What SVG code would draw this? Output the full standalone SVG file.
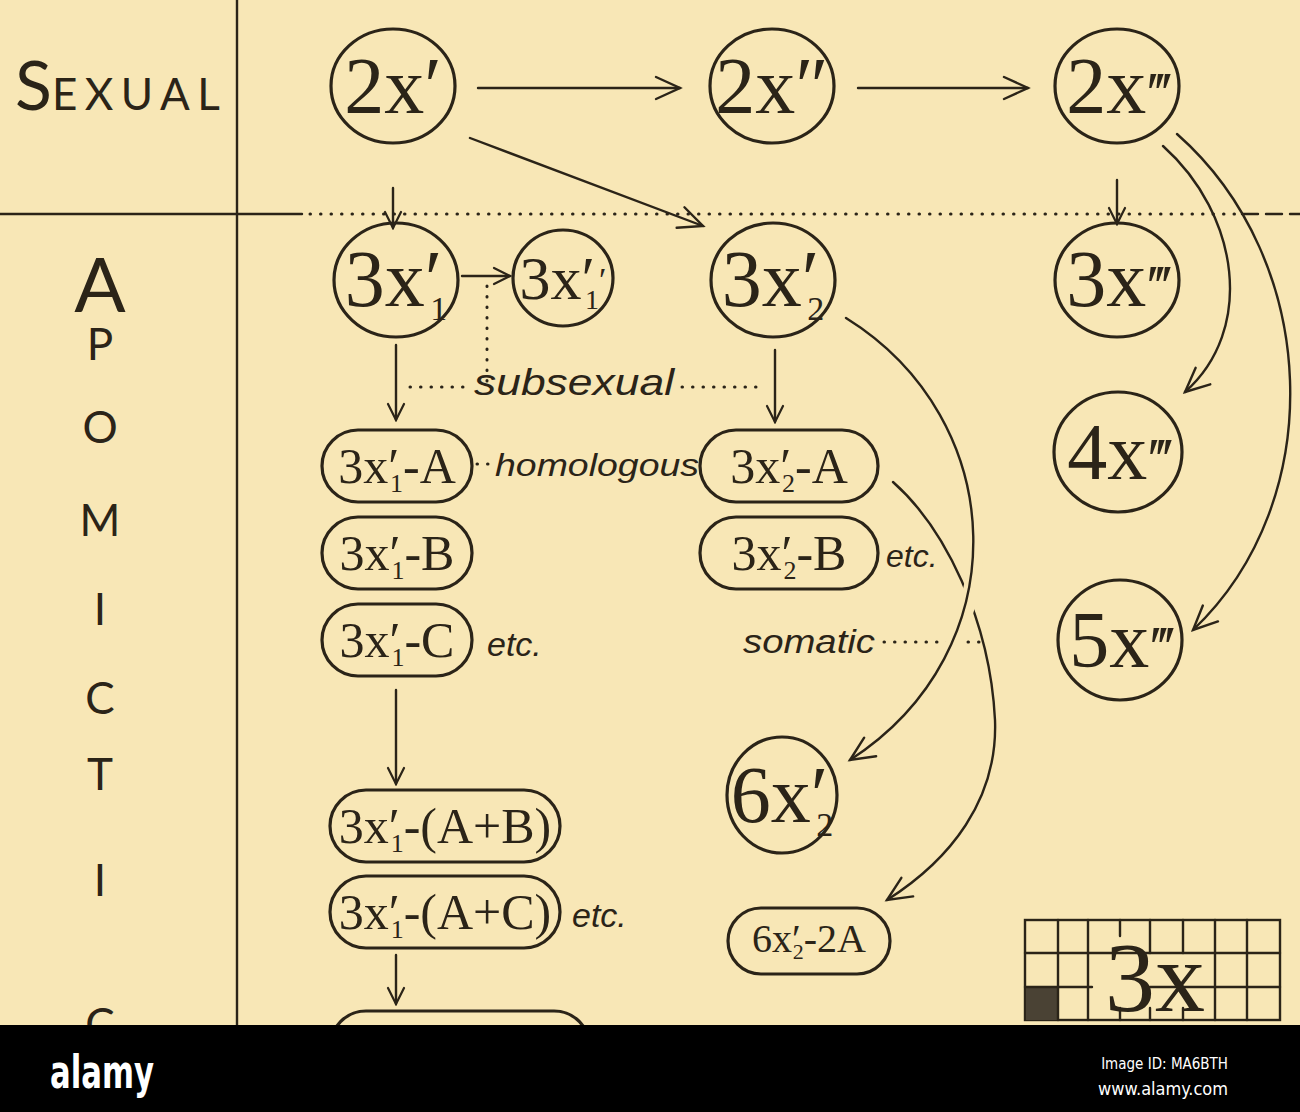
<svg xmlns="http://www.w3.org/2000/svg" width="1300" height="1112" viewBox="0 0 1300 1112">
<defs>
<style>
.node{stroke:#2b2418;stroke-width:3.2;fill:none}
.ln{stroke:#2b2418;stroke-width:2.4;fill:none;stroke-linecap:round}
.dot{stroke:#2b2418;stroke-width:3;fill:none;stroke-dasharray:0.5 10;stroke-linecap:round}
.lbl{font-family:"Liberation Serif",serif;fill:#2b2418;text-anchor:middle}
.c{font-size:80px}
.s{font-size:62px}
.p{font-size:50px}
.it{font-family:"Liberation Sans",sans-serif;font-style:italic;fill:#2b2418}
.cap{font-family:"Lato","Liberation Sans",sans-serif;fill:#2b2418;text-anchor:middle}
.halo{stroke:#f8e7b6;stroke-width:16;fill:none}
</style>
<marker id="ah" viewBox="0 0 30 30" refX="27" refY="15" markerWidth="30" markerHeight="30" markerUnits="userSpaceOnUse" orient="auto"><path d="M3,4 L27,15 L3,26" fill="none" stroke="#2b2418" stroke-width="2.4" stroke-linecap="round"/></marker>
<marker id="as" viewBox="0 0 20 20" refX="18" refY="10" markerWidth="20" markerHeight="20" markerUnits="userSpaceOnUse" orient="auto"><path d="M2,2 L18,10 L2,18" fill="none" stroke="#2b2418" stroke-width="2.2" stroke-linecap="round"/></marker>
</defs>
<rect width="1300" height="1112" fill="#f8e7b6"/>

<g id="frame">
<line class="ln" x1="237" y1="0" x2="237" y2="1025"/>
<line class="ln" x1="0" y1="214" x2="302" y2="214"/>
<line class="dot" x1="310" y1="214" x2="1236" y2="214"/>
<line class="ln" x1="1242" y1="214" x2="1300" y2="214" stroke-dasharray="16 8"/>
<text class="cap" x="15" y="110" style="text-anchor:start"><tspan font-size="68">S</tspan><tspan font-size="44" textLength="168" lengthAdjust="spacing">EXUAL</tspan></text>
<text class="cap" x="100" y="312" font-size="76">A</text>
<text class="cap" x="100" y="360" font-size="44">P</text>
<text class="cap" x="100" y="443" font-size="44">O</text>
<text class="cap" x="100" y="536" font-size="44">M</text>
<text class="cap" x="100" y="625" font-size="44">I</text>
<text class="cap" x="100" y="714" font-size="44">C</text>
<text class="cap" x="100" y="790" font-size="44">T</text>
<text class="cap" x="100" y="896" font-size="44">I</text>
<text class="cap" x="100" y="1040" font-size="44">C</text>
</g>

<g id="connectors">
<path class="ln" d="M478 88 L680 88" marker-end="url(#ah)"/>
<path class="ln" d="M858 88 L1028 88" marker-end="url(#ah)"/>
<path class="ln" d="M470 138 L703 226" marker-end="url(#ah)"/>
<path class="ln" d="M393 188 L393 228" marker-end="url(#as)"/>
<path class="ln" d="M1117 180 L1117 224" marker-end="url(#as)"/>
<path class="ln" d="M462 276 L510 276" marker-end="url(#as)"/>
<path class="dot" d="M487 286 L487 384"/>
<path class="ln" d="M396 345 L396 420" marker-end="url(#as)"/>
<path class="ln" d="M775 350 L775 422" marker-end="url(#as)"/>
<path class="dot" d="M410 387 L470 387"/>
<path class="dot" d="M682 387 L757 387"/>
<path class="dot" d="M477 464 L493 464"/>
<path class="dot" d="M884 642 L982 642"/>
<path class="ln" d="M396 690 L396 784" marker-end="url(#as)"/>
<path class="ln" d="M396 955 L396 1004" marker-end="url(#as)"/>
<path class="ln" d="M893 482 C945 528 990 620 995 720 C998 800 950 860 887 900" marker-end="url(#ah)"/>
<path class="halo" d="M975 540 Q978 600 944 661"/>
<path class="ln" d="M846 318 C1010 420 1020 650 850 760" marker-end="url(#ah)"/>
<path class="ln" d="M1163 146 C1240 215 1255 330 1185 392" marker-end="url(#ah)"/>
<path class="ln" d="M1177 134 C1320 260 1330 500 1193 630" marker-end="url(#ah)"/>
<text class="it" x="474" y="395" font-size="36" textLength="200" lengthAdjust="spacingAndGlyphs">subsexual</text>
<text class="it" x="495" y="476" font-size="32" textLength="204" lengthAdjust="spacingAndGlyphs">homologous</text>
<text class="it" x="743" y="653" font-size="33" textLength="132" lengthAdjust="spacingAndGlyphs">somatic</text>
</g>

<g id="n-2x1"><ellipse class="node" cx="393" cy="86" rx="62" ry="57"/><text class="lbl c" x="393" y="113">2x′</text></g>
<g id="n-2x2"><ellipse class="node" cx="772" cy="86" rx="62" ry="57"/><text class="lbl c" x="772" y="113">2x″</text></g>
<g id="n-2x3"><ellipse class="node" cx="1117" cy="86" rx="62" ry="57"/><text class="lbl c" x="1117" y="113">2x<tspan font-size="60" letter-spacing="-6">′′′</tspan></text></g>
<g id="n-3x1"><ellipse class="node" cx="396" cy="280" rx="62" ry="57"/><text class="lbl c" x="396" y="306">3x′<tspan font-size="34" dx="-12" dy="14">1</tspan></text></g>
<g id="n-3x1b"><ellipse class="node" cx="563" cy="278" rx="50" ry="48"/><text class="lbl s" x="563" y="299">3x′<tspan font-size="28" dx="-10" dy="10">1</tspan><tspan font-size="34" dy="-18">′</tspan></text></g>
<g id="n-3x2"><ellipse class="node" cx="773" cy="280" rx="62" ry="57"/><text class="lbl c" x="773" y="306">3x′<tspan font-size="34" dx="-12" dy="14">2</tspan></text></g>
<g id="n-3x3"><ellipse class="node" cx="1117" cy="280" rx="62" ry="57"/><text class="lbl c" x="1117" y="306">3x<tspan font-size="60" letter-spacing="-6">′′′</tspan></text></g>
<g id="n-4x3"><ellipse class="node" cx="1118" cy="452" rx="64" ry="60"/><text class="lbl c" x="1118" y="479">4x<tspan font-size="60" letter-spacing="-6">′′′</tspan></text></g>
<g id="n-5x3"><ellipse class="node" cx="1120" cy="640" rx="62" ry="60"/><text class="lbl c" x="1120" y="667">5x<tspan font-size="60" letter-spacing="-6">′′′</tspan></text></g>
<g id="n-6x2"><ellipse class="node" cx="782" cy="795" rx="55" ry="58"/><text class="lbl c" x="782" y="822">6x′<tspan font-size="34" dx="-12" dy="14">2</tspan></text></g>

<g id="p-3x1A"><rect class="node" x="322" y="430" width="150" height="72" rx="36"/><text class="lbl p" x="397" y="483">3x′<tspan font-size="26" dx="-9" dy="9">1</tspan><tspan dy="-9">-A</tspan></text></g>
<g id="p-3x1B"><rect class="node" x="322" y="517" width="150" height="72" rx="36"/><text class="lbl p" x="397" y="570">3x′<tspan font-size="26" dx="-9" dy="9">1</tspan><tspan dy="-9">-B</tspan></text></g>
<g id="p-3x1C"><rect class="node" x="322" y="604" width="150" height="72" rx="36"/><text class="lbl p" x="397" y="657">3x′<tspan font-size="26" dx="-9" dy="9">1</tspan><tspan dy="-9">-C</tspan></text><text class="it" x="487" y="656" font-size="34">etc.</text></g>
<g id="p-3x2A"><rect class="node" x="700" y="430" width="178" height="72" rx="36"/><text class="lbl p" x="789" y="483">3x′<tspan font-size="26" dx="-9" dy="9">2</tspan><tspan dy="-9">-A</tspan></text></g>
<g id="p-3x2B"><rect class="node" x="700" y="517" width="178" height="72" rx="36"/><text class="lbl p" x="789" y="570">3x′<tspan font-size="26" dx="-9" dy="9">2</tspan><tspan dy="-9">-B</tspan></text><text class="it" x="886" y="567" font-size="32">etc.</text></g>
<g id="p-AB"><rect class="node" x="330" y="790" width="230" height="72" rx="36"/><text class="lbl p" x="445" y="843">3x′<tspan font-size="26" dx="-9" dy="9">1</tspan><tspan dy="-9">-(A+B)</tspan></text></g>
<g id="p-AC"><rect class="node" x="330" y="876" width="230" height="72" rx="36"/><text class="lbl p" x="445" y="929">3x′<tspan font-size="26" dx="-9" dy="9">1</tspan><tspan dy="-9">-(A+C)</tspan></text><text class="it" x="572" y="927" font-size="34">etc.</text></g>
<g id="p-next"><rect class="node" x="330" y="1011" width="260" height="72" rx="36"/></g>
<g id="p-6x2A"><rect class="node" x="728" y="908" width="162" height="66" rx="33"/><text class="lbl" font-size="40" x="809" y="952">6x′<tspan font-size="22" dx="-8" dy="7">2</tspan><tspan dy="-7">-2A</tspan></text></g>

<g id="grid" class="ln">
<rect x="1025" y="920" width="255" height="100"/>
<rect x="1026" y="987" width="32" height="33" fill="#4a4234" stroke="none"/>
<line x1="1025" y1="953" x2="1280" y2="953"/>
<line x1="1025" y1="987" x2="1092" y2="987"/>
<line x1="1150" y1="987" x2="1280" y2="987"/>
<line x1="1058" y1="920" x2="1058" y2="1020"/>
<line x1="1088" y1="920" x2="1088" y2="1020"/>
<line x1="1120" y1="920" x2="1120" y2="936"/>
<line x1="1120" y1="1008" x2="1120" y2="1020"/>
<line x1="1150" y1="920" x2="1150" y2="953"/>
<line x1="1150" y1="1008" x2="1150" y2="1020"/>
<line x1="1183" y1="920" x2="1183" y2="953"/>
<line x1="1183" y1="1008" x2="1183" y2="1020"/>
<line x1="1215" y1="920" x2="1215" y2="1020"/>
<line x1="1247" y1="920" x2="1247" y2="1020"/>
<text class="lbl" x="1155" y="1011" font-size="100" stroke="none">3x</text>
</g>

<g id="bar">
<rect x="0" y="1025" width="1300" height="87" fill="#000"/>
<text x="50" y="1088" font-family="DejaVu Sans Condensed, DejaVu Sans, sans-serif" font-weight="bold" font-size="46" fill="#fff" textLength="104" lengthAdjust="spacingAndGlyphs">alamy</text>
<text x="1228" y="1069" font-family="DejaVu Sans Condensed, DejaVu Sans, sans-serif" font-size="15" fill="#fff" text-anchor="end">Image ID: MA6BTH</text>
<text x="1228" y="1095" font-family="DejaVu Sans Condensed, DejaVu Sans, sans-serif" font-size="18" fill="#fff" text-anchor="end">www.alamy.com</text>
</g>
</svg>
